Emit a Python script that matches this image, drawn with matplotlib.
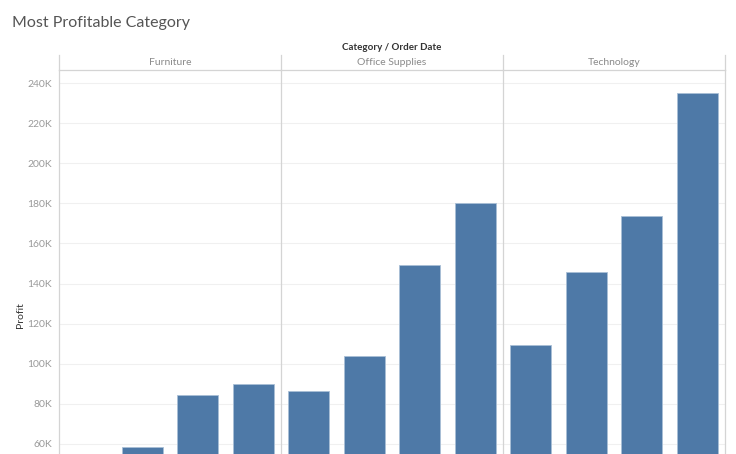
import matplotlib.pyplot as plt
from matplotlib.ticker import FuncFormatter

# data (profit in thousands)
categories = ['Furniture', 'Office Supplies', 'Technology']
years = ['2014', '2015', '2016', '2017']
furniture = [50.0, 58.5, 84.4, 89.8]
office_supplies = [86.3, 103.8, 149.2, 180.1]
technology = [109.4, 145.8, 173.8, 235.1]
profits = [furniture, office_supplies, technology]

W, H = 736, 454
fig = plt.figure(figsize=(W / 100, H / 100), dpi=100)
plt.rcParams['font.family'] = ['Lato', 'DejaVu Sans']

left, right = 59 / W, 725 / W
plot_top = 1 - 70 / H
head_top = 1 - 55 / H
pw = (right - left) / 3

bar_color = '#4e79a7'
line_color = '#d4d4d4'
ymin, ymax = 55, 246.5

axes = []
for i, (cat, vals) in enumerate(zip(categories, profits)):
    ax = fig.add_axes([left + i * pw, 0, pw, plot_top])
    ax.bar(range(len(years)), vals, width=0.74, color=bar_color,
           edgecolor='#a9bfd6', linewidth=0.6, zorder=3)
    ax.set_xlim(-0.5, 3.5)
    ax.set_ylim(ymin, ymax)
    ax.set_yticks(range(60, 241, 20))
    ax.grid(axis='y', color='#f0f0f0', linewidth=0.8, zorder=0)
    ax.set_xticks([])
    for s in ['top', 'bottom', 'right']:
        ax.spines[s].set_visible(False)
    ax.spines['left'].set_color(line_color)
    ax.spines['left'].set_linewidth(0.9)
    if i == 0:
        ax.yaxis.set_major_formatter(FuncFormatter(lambda v, p: f'{int(v)}K'))
        ax.tick_params(axis='y', length=0, labelsize=7.5, labelcolor='#9a9a9a', pad=5)
        ax.set_ylabel('Profit', fontsize=7.5, color='#333333', va='center')
        ax.yaxis.set_label_coords(-39 / 222, 139 / 384)
    else:
        ax.tick_params(axis='y', length=0, labelleft=False)
    if i == 2:
        ax.spines['right'].set_visible(True)
        ax.spines['right'].set_color(line_color)
        ax.spines['right'].set_linewidth(0.9)
    axes.append(ax)

    # header cell
    hx = fig.add_axes([left + i * pw, plot_top, pw, head_top - plot_top])
    hx.set_xticks([])
    hx.set_yticks([])
    for s in ['top', 'right']:
        hx.spines[s].set_visible(False)
    hx.spines['left'].set_color(line_color)
    hx.spines['bottom'].set_color(line_color)
    hx.spines['left'].set_linewidth(0.9)
    hx.spines['bottom'].set_linewidth(0.9)
    if i == 2:
        hx.spines['right'].set_visible(True)
        hx.spines['right'].set_color(line_color)
        hx.spines['right'].set_linewidth(0.9)
    hx.patch.set_alpha(0)
    hx.text(0.5, 0.5, cat, ha='center', va='center', fontsize=7.5, color='#8a8a8a',
            transform=hx.transAxes)

fig.text(392 / W, 1 - 47 / H, 'Category / Order Date', ha='center', va='center',
         fontsize=7, color='#333333', fontweight='bold')
fig.text(12 / W, 1 - 23 / H, 'Most Profitable Category', ha='left', va='center',
         fontsize=11.5, color='#555555')

fig.savefig('out.png', dpi=100)
